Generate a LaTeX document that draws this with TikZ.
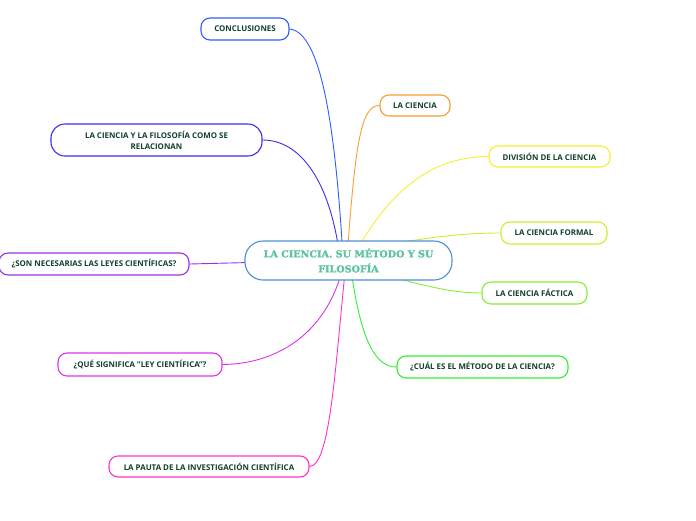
\documentclass[tikz,border=0pt]{standalone}
\usepackage{fontspec}
\setmainfont{Open Sans}
\newfontfamily\titlefont[FakeBold=1.5]{DejaVu Serif Bold}
\definecolor{txt}{HTML}{12402C}
\definecolor{ctitle}{HTML}{5CC2A0}
\definecolor{cblue}{HTML}{4A90D9}
\definecolor{cconc}{HTML}{2F5CFF}
\definecolor{cfil}{HTML}{3A2EEE}
\definecolor{cson}{HTML}{9B30E8}
\definecolor{cque}{HTML}{DD33EE}
\definecolor{cpau}{HTML}{FF33CC}
\definecolor{ccua}{HTML}{33EE33}
\definecolor{cfac}{HTML}{88EE33}
\definecolor{cfor}{HTML}{C8F033}
\definecolor{cdiv}{HTML}{F8EE30}
\definecolor{ccie}{HTML}{F5A030}
\tikzset{
  topic/.style={draw, line width=1.1pt, rounded corners=9pt, fill=white, inner sep=0pt,
    text=txt, font=\fontsize{7.9}{11}\selectfont\bfseries, align=center},
  link/.style={line width=0.9pt},
}
\begin{document}
\begin{tikzpicture}[x=1pt,y=-1pt]
\useasboundingbox (0,0) rectangle (696,520);
\coordinate (c) at (348,260);
% nodes
\node[topic, draw=cconc, minimum width=88pt, minimum height=22pt] (conc) at (245,29) {CONCLUSIONES};
\node[topic, draw=ccie, minimum width=70pt, minimum height=21pt] (cie) at (415,105.5) {LA CIENCIA};
\node[topic, draw=cfil, minimum width=211pt, minimum height=32pt, rounded corners=14pt] (fil) at (156.5,140) {LA CIENCIA Y LA FILOSOFÍA COMO SE\\RELACIONAN};
\node[topic, draw=cdiv, minimum width=121pt, minimum height=21pt] (div) at (549.5,156.5) {DIVISIÓN DE LA CIENCIA};
\node[topic, draw=cfor, minimum width=106pt, minimum height=22pt] (for) at (554,233) {LA CIENCIA FORMAL};
\node[topic, draw=cson, minimum width=190pt, minimum height=22pt] (son) at (94,264) {¿SON NECESARIAS LAS LEYES CIENTÍFICAS?};
\node[topic, draw=cfac, minimum width=105pt, minimum height=22pt] (fac) at (534.5,293) {LA CIENCIA FÁCTICA};
\node[topic, draw=ccua, minimum width=171pt, minimum height=22pt] (cua) at (482.5,367) {¿CUÁL ES EL MÉTODO DE LA CIENCIA?};
\node[topic, draw=cque, minimum width=164pt, minimum height=23pt] (que) at (140,364.5) {¿QUÉ SIGNIFICA \char"22 LEY CIENTÍFICA\char"22?};
\node[topic, draw=cpau, minimum width=200pt, minimum height=21pt] (pau) at (209,466.5) {LA PAUTA DE LA INVESTIGACIÓN CIENTÍFICA};
% links (behind centre)
\draw[link, cconc] (343,258) .. controls (335,120) and (320,32) .. (conc.east);
\draw[link, ccie] (347,258) .. controls (355,150) and (360,105) .. (cie.west);
\draw[link, cfil] (340,258) .. controls (330,180) and (300,140) .. (fil.east);
\draw[link, cdiv] (352,258) .. controls (390,190) and (430,157) .. (div.west);
\draw[link, cfor] (360,250) .. controls (420,238) and (460,233) .. (for.west);
\draw[link, cson] (c) -- (son.east);
\draw[link, cfac] (360,268) .. controls (420,285) and (450,293) .. (fac.west);
\draw[link, ccua] (350,262) .. controls (360,340) and (375,367) .. (cua.west);
\draw[link, cque] (344,262) .. controls (330,330) and (280,364) .. (que.east);
\draw[link, cpau] (346,262) .. controls (335,370) and (330,466) .. (pau.east);
% centre node
\node[draw=cblue, line width=1.1pt, rounded corners=18pt, fill=white, minimum width=207pt, minimum height=39pt, inner sep=0pt,
  text=ctitle, font=\titlefont\fontsize{9.6}{15}\selectfont, align=center] (main) at (348.5,260.5) {LA CIENCIA. SU MÉTODO Y SU\\FILOSOFÍA};
\end{tikzpicture}
\end{document}
